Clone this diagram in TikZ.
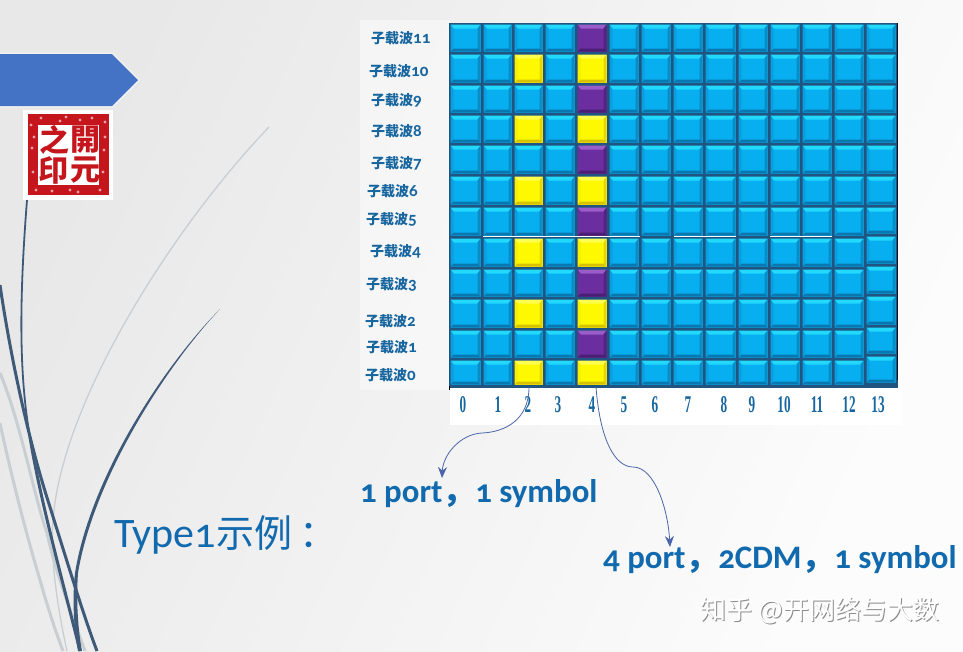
\documentclass[tikz,border=0pt]{standalone}
\usepackage{fontspec}
\usetikzlibrary{arrows.meta}
\newfontfamily\cjk{Noto Sans CJK SC}
\newfontfamily\cjktc{Noto Sans CJK TC}
\newfontfamily\calib[Numbers=OldStyle]{Carlito}
\newfontfamily\libser{Liberation Serif}
\definecolor{cbluef}{HTML}{08AFF0}
\definecolor{cbluet}{HTML}{22D8FC}
\definecolor{cbluel}{HTML}{0A9FDE}
\definecolor{cbluer}{HTML}{0A8CC6}
\definecolor{cblueb}{HTML}{0A78B0}
\definecolor{cyellowf}{HTML}{FFF900}
\definecolor{cyellowt}{HTML}{FFFF50}
\definecolor{cyellowl}{HTML}{F8EE00}
\definecolor{cyellowr}{HTML}{E6D600}
\definecolor{cyellowb}{HTML}{D6C200}
\definecolor{cpurplef}{HTML}{6B2E9E}
\definecolor{cpurplet}{HTML}{9A5CC8}
\definecolor{cpurplel}{HTML}{6A2FA0}
\definecolor{cpurpler}{HTML}{55237F}
\definecolor{cpurpleb}{HTML}{4A1E72}
\definecolor{griddark}{HTML}{1F5580}
\definecolor{inkblue}{HTML}{1169AE}
\definecolor{labelblue}{HTML}{17669F}
\definecolor{swdark}{HTML}{3E5A78}
\definecolor{swgrey}{HTML}{C9CED3}
\definecolor{arrowblue}{HTML}{4A66A8}
\definecolor{sealred}{HTML}{C4161C}
\definecolor{ribbonblue}{HTML}{4472C4}
\newcommand{\bevelcell}[5]{%
  \fill[c#5f] (#1,#2) rectangle (#3,#4);
  \fill[c#5t] (#1,#2) -- (#3,#2) -- (#3-3,#2+4) -- (#1+3,#2+4) -- cycle;
  \fill[c#5l] (#1,#2) -- (#1+3,#2+4) -- (#1+3,#4-3) -- (#1,#4) -- cycle;
  \fill[c#5r] (#3,#2) -- (#3-3,#2+4) -- (#3-3,#4-3) -- (#3,#4) -- cycle;
  \fill[c#5b] (#1,#4) -- (#1+3,#4-3) -- (#3-3,#4-3) -- (#3,#4) -- cycle;
}
\tikzset{
  rowlabel/.style={anchor=west,inner sep=0pt,text=labelblue,font=\cjk\bfseries\fontsize{14}{16}\selectfont},
  ticklabel/.style={inner sep=0pt,text=labelblue,font=\libser\bfseries\fontsize{24}{26}\selectfont},
  bigtext/.style={anchor=west,inner sep=0pt,text=inkblue,font=\calib\bfseries\fontsize{32.8}{36}\selectfont},
  sealchar/.style={inner sep=0pt,text=sealred,font=\cjktc\bfseries\fontsize{30}{32}\selectfont},
  connector/.style={arrowblue,line width=0.8pt,-{Stealth[length=11pt,width=9pt]}},
  swoopdark/.style={draw=swdark},
  swoopgrey/.style={draw=swgrey},
  speck/.style={fill=white,opacity=.6}
}
\newcommand{\rowtxt}[1]{子载波{\calib\bfseries\fontsize{17}{16}\selectfont #1}}
\newcommand{\thin}[1]{\scalebox{0.55}[1]{#1}}
\begin{document}
\begin{tikzpicture}[x=1pt,y=-1pt]
\useasboundingbox (0,0) rectangle (963,651);
\shade[left color=black!9,middle color=black!4,right color=black!1,shading angle=65] (0,0) rectangle (963,651);
% swoops
\draw[swoopgrey,line width=1.3pt] (269,127) .. controls (175,225) and (62,400) .. (53,520) .. controls (50,560) and (58,610) .. (67,651);
\draw[swoopgrey,line width=3pt] (0,373) .. controls (20,420) and (35,500) .. (47,533) .. controls (55,570) and (70,610) .. (85,651);
\draw[swoopgrey,line width=3pt] (0,423) .. controls (10,470) and (25,530) .. (40,580) .. controls (47,605) and (55,630) .. (63,651);
\draw[swoopdark,line width=1.8pt] (27,200) .. controls (20,290) and (18,370) .. (30,437);
\draw[swoopdark,line width=3pt] (30,437) .. controls (40,500) and (65,590) .. (80,651);
\draw[swoopdark,line width=3pt] (0,285) .. controls (8,340) and (25,430) .. (50,507) .. controls (65,555) and (85,620) .. (97,651);
\fill[swdark] (220,309) .. controls (160,370) and (90,480) .. (75,573) .. controls (72,600) and (74,630) .. (78,651) -- (82,651) .. controls (78,630) and (76,600) .. (78,573) .. controls (93,482) and (162,371) .. (220,309) -- cycle;
% ribbon arrow
\fill[black!5] (0,52.5) -- (112.5,52.5) -- (140,80) -- (112.5,107.5) -- (0,107.5) -- cycle;
\fill[ribbonblue] (0,54) -- (112,54) -- (138,80) -- (112,106) -- (0,106) -- cycle;
% seal
\fill[white] (23,110) rectangle (113,200);
\fill[sealred] (28,114) rectangle (109,195);
\foreach \a/\b in {41/118,66/117,92/118,105/122,31/125,32/148,33/172,104/150,103/172,36/190,52/191,78/192,100/190,60/121,80/120,34/137,105/137,70/190}
  \fill[speck] (\a,\b) circle (1.6);
\fill[white] (38,125) rectangle (99,185);
\node[sealchar] (sealA) at (54,140) {之};
\node[sealchar] (sealB) at (85,140) {開};
\node[sealchar] (sealC) at (53,170) {印};
\node[sealchar] (sealD) at (85,170) {元};
% white panels
\fill[white,opacity=.45] (360,20) rectangle (450,390);
\fill[white] (450,386) rectangle (902,425);
% grid
\fill[griddark] (449,23) rectangle (898,388);
\foreach \c/\xa/\xb in {0/449/482,1/482/513,2/513/544,3/544/576,4/576/608,5/608/640,6/640/672,7/672/704,8/704/737,9/737/769,10/769/801,11/801/833,12/833/865}
  \foreach \r/\ya/\yb in {11/23/53,10/53/84,9/84/114,8/114/144,7/144/175,6/175/206,5/206/237,4/237/268,3/268/298,2/298/329,1/329/359,0/359/386}{
    \def\scheme{blue}
    \ifnum\c=2 \ifodd\r\else\def\scheme{yellow}\fi\fi
    \ifnum\c=4 \ifodd\r\def\scheme{purple}\else\def\scheme{yellow}\fi\fi
    \bevelcell{\xa+1.5}{\ya+1.5}{\xb-1.5}{\yb-1.5}{\scheme}
  }
\foreach \r/\ya/\yb in {11/23/53,10/53/84,9/84/114,8/114/144,7/144/175,6/175/206,5/206/235,4/235/265,3/265/295,2/295/326,1/326/355,0/355/384}
  \bevelcell{866.5}{\ya+1.5}{895.5}{\yb-1.5}{blue}
\fill[black!75!griddark] (896.5,23) rectangle (898,380);
\draw[white,line width=1pt] (483,236.5) -- (640,236.5) (674,236.5) -- (736,236.5) (770,236.5) -- (832,236.5);
\draw[black,line width=.8pt] (449.5,386) -- (449.5,390);
% row labels
\node[rowlabel] (r11) at (371,38) {\rowtxt{11}};
\node[rowlabel] (r10) at (369,71) {\rowtxt{10}};
\node[rowlabel] (r9) at (371,100) {\rowtxt{9}};
\node[rowlabel] (r8) at (371,131) {\rowtxt{8}};
\node[rowlabel] (r7) at (371,163) {\rowtxt{7}};
\node[rowlabel] (r6) at (367,191) {\rowtxt{6}};
\node[rowlabel] (r5) at (366,219) {\rowtxt{5}};
\node[rowlabel] (r4) at (370,251) {\rowtxt{4}};
\node[rowlabel] (r3) at (366,284) {\rowtxt{3}};
\node[rowlabel] (r2) at (365,321) {\rowtxt{2}};
\node[rowlabel] (r1) at (366,347) {\rowtxt{1}};
\node[rowlabel] (r0) at (365,375) {\rowtxt{0}};
% tick labels
\foreach \n/\x in {0/463,1/498,2/528,3/558,4/592,5/624,6/655,7/688,8/724,9/752,10/784,11/817,12/849,13/878}
  \node[ticklabel] (t\n) at (\x,405) {\thin{\n}};
% texts
\node[bigtext] (portA) at (360,494) {1 port{\cjk\bfseries，}1 symbol};
\node[bigtext] (portB) at (603,560) {4 port{\cjk\bfseries，}2CDM{\cjk\bfseries，}1 symbol};
\node[anchor=west,inner sep=0pt,text=inkblue,font=\calib\fontsize{42}{46}\selectfont] (typeone) at (114,535) {Type1{\cjk\fontsize{38}{42}\selectfont 示例\hspace{7pt}：}};
% connectors
\coordinate (cellTwo) at (529,387);
\coordinate (cellFour) at (596,387);
\coordinate (bendA) at (482,433);
\coordinate (bendB) at (633,467);
\coordinate (tipA) at (442,478);
\coordinate (tipB) at (670,547);
\draw[connector] (cellTwo) .. controls (529,420) and (505,432) .. (bendA) .. controls (460,434) and (443,455) .. (tipA);
\draw[connector] (cellFour) .. controls (600,440) and (615,467) .. (bendB) .. controls (655,467) and (668,510) .. (tipB);
% watermark
\node[inner sep=0pt,text=black!45,font=\cjk\fontsize{26}{28}\selectfont] (wmshadow) at (820.8,611.8) {知乎 @开网络与大数};
\node[inner sep=0pt,text=white,font=\cjk\fontsize{26}{28}\selectfont] (wm) at (820,611) {知乎 @开网络与大数};
\end{tikzpicture}
\end{document}
